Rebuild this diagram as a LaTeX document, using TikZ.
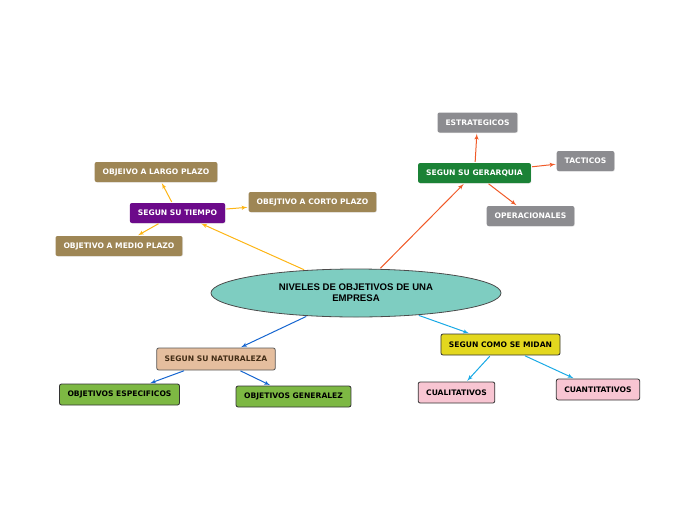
\documentclass[tikz,border=0pt]{standalone}
\usepackage{fontspec}
\setmainfont{DejaVu Sans}
\newfontfamily\ellfont{Liberation Sans}
\usepackage{xcolor}
\usetikzlibrary{shapes,arrows,shadows}
\definecolor{tan}{HTML}{9E8655}
\definecolor{purp}{HTML}{6C0A8A}
\definecolor{grn}{HTML}{1B8236}
\definecolor{gry}{HTML}{8C8C90}
\definecolor{teal}{HTML}{7ECDC1}
\definecolor{peach}{HTML}{E5BE9E}
\definecolor{lime}{HTML}{7DB843}
\definecolor{yel}{HTML}{E3D71E}
\definecolor{pink}{HTML}{F8C5D2}
\definecolor{amber}{HTML}{FDB515}
\definecolor{redor}{HTML}{F05A28}
\definecolor{blu}{HTML}{1565D0}
\definecolor{sky}{HTML}{19A9E5}
\tikzstyle{block} = [rectangle, rounded corners=2pt, font=\fontsize{7.6}{8.6}\selectfont\bfseries, minimum height=20pt, inner xsep=8pt, text centered]
\tikzstyle{topblock} = [block, text=white, drop shadow={opacity=0.2, shadow xshift=0.6pt, shadow yshift=-0.6pt}]
\tikzstyle{lowblock} = [block, draw=black!80, line width=0.8pt, minimum height=21pt]
\tikzstyle{line} = [draw, -latex', line width=1pt, shorten <=1pt, shorten >=1pt]

\begin{document}
\begin{tikzpicture}[x=1pt, y=-1pt]
\useasboundingbox (0,0) rectangle (697,520);
% centre
\node [ellipse, draw=black!70, line width=0.8pt, fill=teal, minimum width=290pt, minimum height=48pt, inner sep=0pt, align=center, font=\ellfont\fontsize{9.6}{11}\selectfont\bfseries] (main) at (356,293) {NIVELES DE OBJETIVOS DE UNA\\EMPRESA};

% segun su tiempo
\node [topblock, fill=purp] (tiempo) at (177.5,213) {SEGUN SU TIEMPO};
\node [topblock, fill=tan] (largo) at (156,172) {OBJEIVO A LARGO PLAZO};
\node [topblock, fill=tan] (corto) at (312.5,202) {OBEJTIVO A CORTO PLAZO};
\node [topblock, fill=tan] (medio) at (119,246) {OBJETIVO A MEDIO PLAZO};

% segun su gerarquia
\node [topblock, fill=grn] (gerarquia) at (474.5,173) {SEGUN SU GERARQUIA};
\node [topblock, fill=gry] (estrat) at (477.5,122.5) {ESTRATEGICOS};
\node [topblock, fill=gry] (tacticos) at (585.5,161) {TACTICOS};
\node [topblock, fill=gry] (operac) at (530.5,216) {OPERACIONALES};

% segun su naturaleza
\node [lowblock, draw=black!65, fill=peach, text=black!65!brown, minimum height=22pt] (natur) at (216,359) {SEGUN SU NATURALEZA};
\node [lowblock, fill=lime] (especif) at (119.5,394.5) {OBJETIVOS ESPECIFICOS};
\node [lowblock, fill=lime] (general) at (293.5,396.5) {OBJETIVOS GENERALEZ};

% segun como se midan
\node [lowblock, fill=yel] (midan) at (500.5,344.5) {SEGUN COMO SE MIDAN};
\node [lowblock, fill=pink] (cualit) at (456.5,392.5) {CUALITATIVOS};
\node [lowblock, fill=pink] (cuantit) at (598,389.5) {CUANTITATIVOS};

\path [line, amber] (main) -- (tiempo);
\path [line, amber] (tiempo) -- (largo);
\path [line, amber] (tiempo) -- (corto);
\path [line, amber] (tiempo) -- (medio);
\path [line, redor] (main) -- (gerarquia);
\path [line, redor] (gerarquia) -- (estrat);
\path [line, redor] (gerarquia) -- (tacticos);
\path [line, redor] (gerarquia) -- (operac);
\path [line, blu] (main) -- (natur);
\path [line, blu] (natur) -- (especif);
\path [line, blu] (natur) -- (general);
\path [line, sky] (main) -- (midan);
\path [line, sky] (midan) -- (cualit);
\path [line, sky] (midan) -- (cuantit);

\end{tikzpicture}
\end{document}
